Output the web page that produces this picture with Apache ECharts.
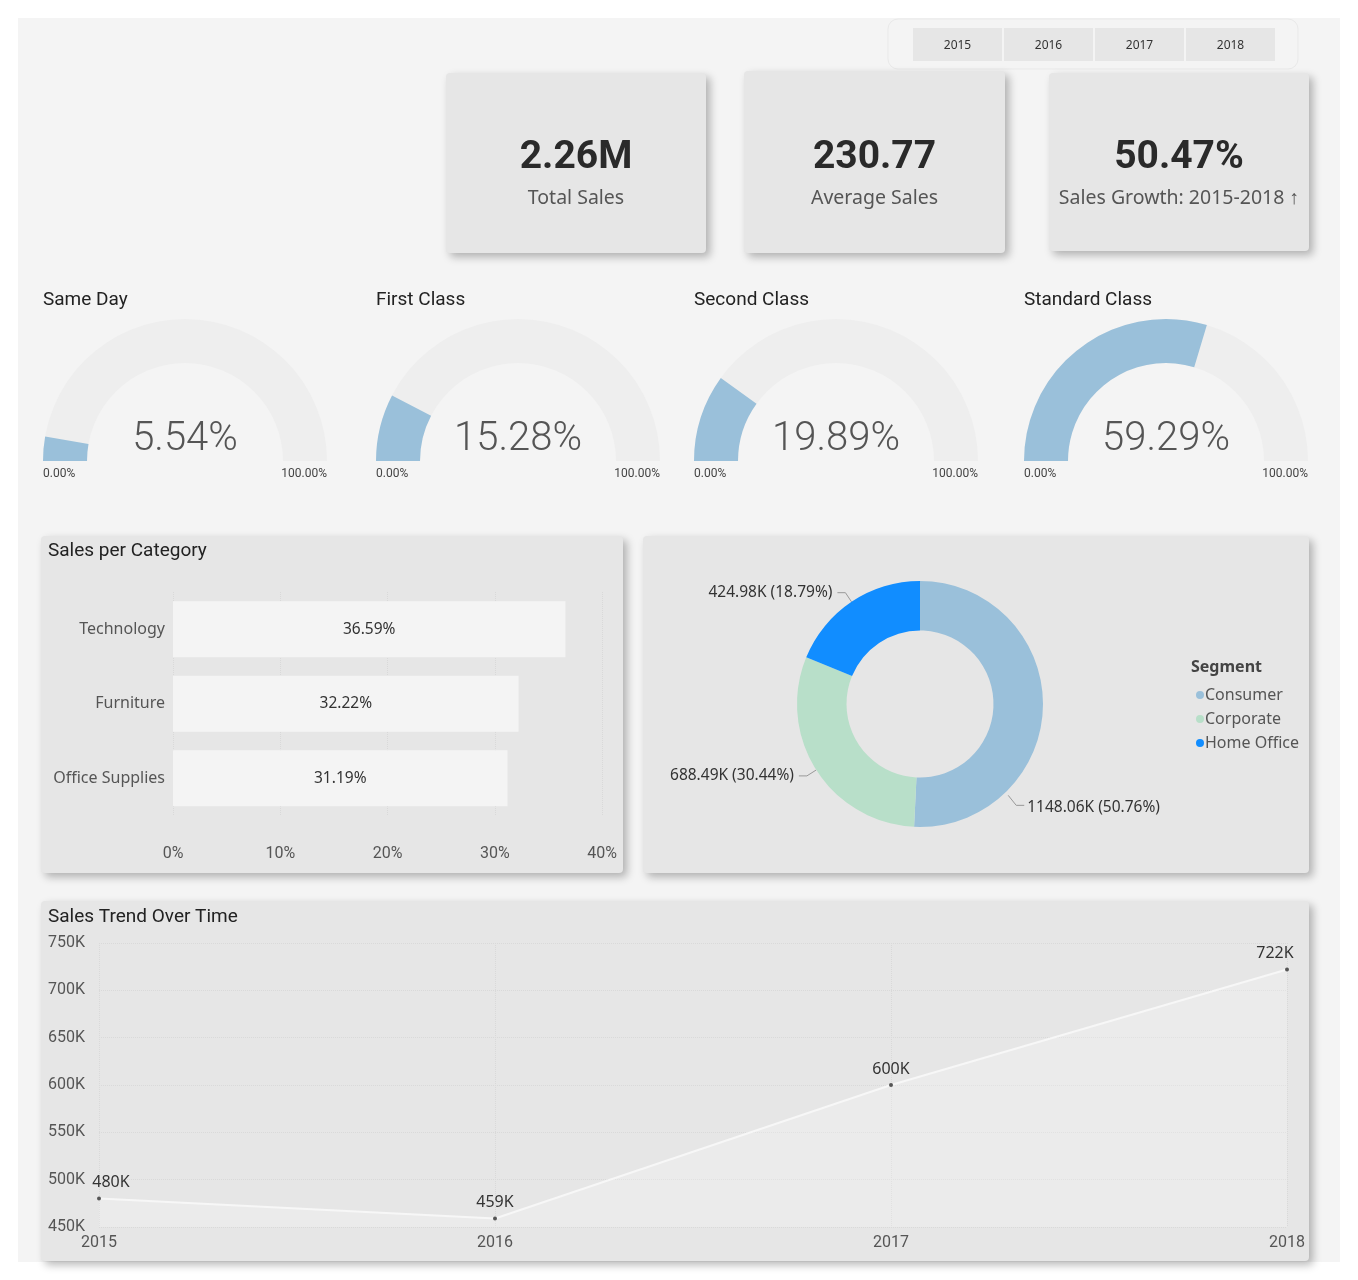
<!DOCTYPE html>
<html>
<head>
<meta charset="utf-8">
<script src="https://cdn.jsdelivr.net/npm/echarts@6/dist/echarts.min.js"></script>
<style>
html,body{margin:0;padding:0;background:#ffffff;}
#main{width:1358px;height:1280px;}
</style>
</head>
<body>
<div id="main"></div>
<script>
// ---------- DATA ----------
const years = ['2015', '2016', '2017', '2018'];
const kpiValues = ['2.26M', '230.77', '50.47%'];
const kpiLabels = ['Total Sales', 'Average Sales', 'Sales Growth: 2015-2018 \u2191'];
const shipModes = ['Same Day', 'First Class', 'Second Class', 'Standard Class'];
const shipShares = [5.54, 15.28, 19.89, 59.29];
const gaugeMinLabel = '0.00%';
const gaugeMaxLabel = '100.00%';
const categories = ['Technology', 'Furniture', 'Office Supplies'];
const categoryShares = [36.59, 32.22, 31.19];
const segments = ['Consumer', 'Corporate', 'Home Office'];
const segmentSalesK = [1148.06, 688.49, 424.98];
const trendYears = ['2015', '2016', '2017', '2018'];
const trendSalesK = [480, 459, 600, 722];

// ---------- STYLE ----------
const DIN = 'Roboto, "DejaVu Sans", sans-serif';
const SEG = '"Noto Sans", "Open Sans", sans-serif';
const gaugeColor = '#9ac0da';
const segColors = ['#9ac0da', '#b8dfc9', '#118dff'];
const trendLabelShift = [[12, 0], [0, 0], [0, 0], [-12, 0]];
const cardShadow = {shadowBlur: 8, shadowOffsetX: 4, shadowOffsetY: 4, shadowColor: 'rgba(0,0,0,0.28)'};

const chart = echarts.init(document.getElementById('main'));

const graphics = [];
// page panel
graphics.push({type: 'rect', shape: {x: 18, y: 18, width: 1322, height: 1244}, style: {fill: '#f4f4f4'}, z: -10});
// year slicer
graphics.push({type: 'rect', shape: {x: 888, y: 19, width: 410, height: 50, r: 10}, style: {fill: '#f4f4f4', stroke: '#e9e9e9', lineWidth: 1}, z: -5});
years.forEach((y, i) => {
  const x = 913 + i * 91;
  graphics.push({type: 'rect', shape: {x: x, y: 28, width: 89, height: 33}, style: {fill: '#e6e6e6'}, z: -4});
  graphics.push({type: 'text', x: x + 44.5, y: 46, style: {text: y, fill: '#333', font: '12px ' + SEG, textAlign: 'center', textVerticalAlign: 'middle'}, z: 5});
});
// KPI cards
const kpiBoxes = [[446, 73, 260, 180], [744, 71, 261, 182], [1049, 73, 260, 178]];
kpiBoxes.forEach((b, i) => {
  graphics.push({type: 'rect', shape: {x: b[0], y: b[1], width: b[2], height: b[3], r: 4}, style: Object.assign({fill: '#e6e6e6'}, cardShadow), z: -4});
  const cx = b[0] + b[2] / 2;
  graphics.push({type: 'text', x: cx, y: 158, style: {text: kpiValues[i], fill: '#2a2a2a', font: 'bold 39px ' + DIN, textAlign: 'center', textVerticalAlign: 'middle'}, z: 5});
  graphics.push({type: 'text', x: cx, y: 198, style: {text: kpiLabels[i], fill: '#555', font: '19.5px ' + SEG, textAlign: 'center', textVerticalAlign: 'middle'}, z: 5});
});
// gauge titles and min/max labels
const gaugeLeft = [43, 376, 694, 1024];
const gaugeR = 142;
shipModes.forEach((m, i) => {
  graphics.push({type: 'text', x: gaugeLeft[i], y: 300, style: {text: m, fill: '#222', font: '19px ' + DIN, textAlign: 'left', textVerticalAlign: 'middle'}, z: 5});
  graphics.push({type: 'text', x: gaugeLeft[i], y: 474, style: {text: gaugeMinLabel, fill: '#444', font: '12px ' + DIN, textAlign: 'left', textVerticalAlign: 'middle'}, z: 5});
  graphics.push({type: 'text', x: gaugeLeft[i] + 2 * gaugeR, y: 474, style: {text: gaugeMaxLabel, fill: '#444', font: '12px ' + DIN, textAlign: 'right', textVerticalAlign: 'middle'}, z: 5});
});
// category card
graphics.push({type: 'rect', shape: {x: 41, y: 536, width: 582, height: 337, r: 4}, style: Object.assign({fill: '#e6e6e6'}, cardShadow), z: -4});
graphics.push({type: 'text', x: 48, y: 551, style: {text: 'Sales per Category', fill: '#222', font: '19px ' + DIN, textAlign: 'left', textVerticalAlign: 'middle'}, z: 5});
// donut card
graphics.push({type: 'rect', shape: {x: 643, y: 536, width: 666, height: 337, r: 4}, style: Object.assign({fill: '#e6e6e6'}, cardShadow), z: -4});
graphics.push({type: 'text', x: 1191, y: 667, style: {text: 'Segment', fill: '#444', font: 'bold 16px ' + SEG, textAlign: 'left', textVerticalAlign: 'middle'}, z: 5});
// trend card
graphics.push({type: 'rect', shape: {x: 41, y: 901, width: 1268, height: 360, r: 4}, style: Object.assign({fill: '#e6e6e6'}, cardShadow), z: -4});
graphics.push({type: 'text', x: 48, y: 917, style: {text: 'Sales Trend Over Time', fill: '#222', font: '19px ' + DIN, textAlign: 'left', textVerticalAlign: 'middle'}, z: 5});

// ---------- SERIES ----------
const series = [];
shipShares.forEach((v, i) => {
  series.push({
    type: 'gauge',
    center: [gaugeLeft[i] + gaugeR, 461],
    radius: gaugeR,
    startAngle: 180, endAngle: 0,
    min: 0, max: 100,
    progress: {show: true, width: 44, roundCap: false, itemStyle: {color: gaugeColor}},
    axisLine: {roundCap: false, lineStyle: {width: 44, color: [[1, '#eeeeee']]}},
    pointer: {show: false}, anchor: {show: false},
    axisTick: {show: false}, splitLine: {show: false}, axisLabel: {show: false},
    title: {show: false},
    detail: {offsetCenter: [0, -21], formatter: val => val.toFixed(2) + '%', fontSize: 40, fontWeight: 300, fontFamily: DIN, color: '#555'},
    silent: true, animation: false,
    data: [{value: v, name: shipModes[i]}]
  });
});

series.push({
  type: 'bar', xAxisIndex: 0, yAxisIndex: 0,
  data: categoryShares,
  barCategoryGap: '25%',
  itemStyle: {color: '#f4f4f4'},
  label: {show: true, position: 'inside', formatter: p => p.value.toFixed(2) + '%', color: '#333', fontSize: 15.5, fontFamily: SEG},
  silent: true, animation: false
});

const pieCx = 920, pieCy = 704, pieR0 = 73.5, pieR = 123;
const segTotal = segmentSalesK.reduce((a, b) => a + b, 0);
series.push({
  type: 'pie',
  center: [pieCx, pieCy],
  radius: [pieR0, pieR],
  startAngle: 90, clockwise: true,
  avoidLabelOverlap: false,
  data: segments.map((s, i) => ({name: s, value: segmentSalesK[i], itemStyle: {color: segColors[i]}})),
  label: {show: true, position: 'outside', formatter: p => p.value.toFixed(2) + 'K (' + (p.value / segTotal * 100).toFixed(2) + '%)', color: '#333', fontSize: 15.5, fontFamily: SEG},
  labelLine: {show: true, length: 11, length2: 8, lineStyle: {color: '#999', width: 1}},
  labelLayout: function (p) {
    if (p.dataIndex !== 0) return {};
    const a = 46 * Math.PI / 180;
    const r = pieR + 4;
    const x0 = pieCx + r * Math.cos(a), y0 = pieCy + r * Math.sin(a);
    return {x: x0 + 19, y: y0 + 12, align: 'left', verticalAlign: 'middle',
      labelLinePoints: [[x0, y0], [x0 + 8, y0 + 10], [x0 + 16, y0 + 10]]};
  },
  silent: true, animation: false
});

series.push({
  type: 'line', xAxisIndex: 1, yAxisIndex: 1,
  data: trendSalesK.map((v, i) => ({value: v, label: {offset: trendLabelShift[i]}})),
  lineStyle: {color: '#f7f7f7', width: 2},
  areaStyle: {color: 'rgba(255,255,255,0.3)'},
  symbol: 'circle', symbolSize: 4,
  itemStyle: {color: '#555'},
  label: {show: true, position: 'top', distance: 6, formatter: p => p.value + 'K', color: '#333', fontSize: 16, fontFamily: SEG},
  silent: true, animation: false
});

const option = {
  backgroundColor: '#ffffff',
  animation: false,
  graphic: graphics,
  legend: {
    data: segments,
    orient: 'vertical',
    left: 1191, top: 682,
    icon: 'circle', itemWidth: 8, itemHeight: 8, itemGap: 8,
    textStyle: {color: '#555', fontSize: 16, fontFamily: SEG, padding: [0, 0, 0, -4]},
    selectedMode: false
  },
  grid: [
    {left: 173, width: 429, top: 592, height: 223.5},
    {left: 99, width: 1188, top: 943, height: 284}
  ],
  xAxis: [
    {type: 'value', gridIndex: 0, min: 0, max: 40, interval: 10,
      axisLabel: {formatter: '{value}%', color: '#555', fontSize: 16, fontFamily: DIN, margin: 30},
      axisLine: {show: false}, axisTick: {show: false},
      splitLine: {show: true, lineStyle: {color: '#d9d9d9', type: 'dotted'}}},
    {type: 'category', gridIndex: 1, data: trendYears, boundaryGap: false,
      axisLabel: {color: '#555', fontSize: 16, fontFamily: DIN, margin: 8},
      axisLine: {show: false}, axisTick: {show: false},
      splitLine: {show: true, lineStyle: {color: '#d9d9d9', type: 'dotted'}}}
  ],
  yAxis: [
    {type: 'category', gridIndex: 0, data: categories, inverse: true,
      axisLabel: {color: '#555', fontSize: 16, fontFamily: SEG, margin: 8},
      axisLine: {show: false}, axisTick: {show: false}, splitLine: {show: false}},
    {type: 'value', gridIndex: 1, min: 450, max: 750, interval: 50,
      axisLabel: {formatter: '{value}K', color: '#555', fontSize: 16, fontFamily: DIN, align: 'left', margin: 51},
      axisLine: {show: false}, axisTick: {show: false},
      splitLine: {show: true, lineStyle: {color: '#d9d9d9', type: 'dotted'}}}
  ],
  series: series
};
chart.setOption(option);
</script>
</body>
</html>
